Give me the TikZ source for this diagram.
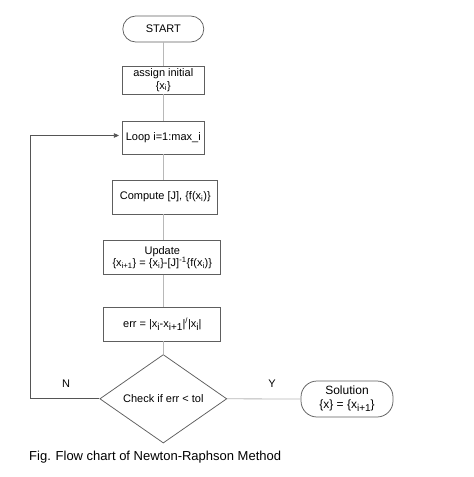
\documentclass[tikz,border=0pt]{standalone}
\usepackage{fontspec}
\setmainfont{Liberation Sans}
\usetikzlibrary{shapes.geometric,arrows.meta}
\definecolor{boxgray}{HTML}{5E5E5E}
\definecolor{linkgray}{HTML}{B8B8B8}
\definecolor{backgray}{HTML}{555555}
\newcommand{\bsub}[1]{\raisebox{-0.45ex}{\fontsize{10}{10}\selectfont #1}}
\begin{document}
\begin{tikzpicture}[x=1pt,y=-1pt,
  base/.style={draw=boxgray, line width=0.75pt, inner sep=0pt, align=center,
    font=\fontsize{11}{12.5}\selectfont, text=black},
  procbox/.style={base, rectangle},
  termbox/.style={base, rectangle, rounded corners=13pt},
  decbox/.style={base, diamond},
  link/.style={draw=linkgray, line width=0.8pt},
  backlink/.style={draw=backgray, line width=0.8pt, -{Triangle[length=5pt,width=4.5pt]}},
  lbl/.style={font=\fontsize{11}{12}\selectfont, inner sep=0pt}]
\useasboundingbox (0,0) rectangle (474,477);
\fill[white] (0,0) rectangle (474,477);

\node[termbox, minimum width=81pt, minimum height=26pt] (start) at (163.3,29) {START};
\node[procbox, minimum width=82pt, minimum height=28pt] (init) at (163.3,80) {assign initial\\\{x\textsubscript{i}\}};
\node[procbox, minimum width=82pt, minimum height=33pt] (loop) at (163.3,137.5) {Loop i=1:max\_i};
\node[procbox, minimum width=105pt, minimum height=34pt] (comp) at (165.3,197) {Compute [J], \{f(x\textsubscript{i})\}};
\node[procbox, minimum width=117pt, minimum height=33.5pt] (upd) at (162.3,257.5) {Update\\\{x\textsubscript{i+1}\} = \{x\textsubscript{i}\}-[J]\textsuperscript{-1}\{f(x\textsubscript{i})\}};
\node[procbox, minimum width=117pt, minimum height=34pt] (err) at (162.3,324) {err = |x\bsub{i}-x\bsub{i+1}|\textsuperscript{/}|x\bsub{i}|};
\node[decbox, minimum width=127pt, minimum height=68pt] (chk) at (163.3,398.8) {Check if err < tol};
\node[termbox, minimum width=92pt, minimum height=36pt, rounded corners=16pt, font=\fontsize{12}{14}\selectfont] (sol) at (347,399) {Solution\\\{x\} = \{x\bsub{i+1}\}};

\draw[link] (start.south) -- (init.north);
\draw[link] (init.south) -- (loop.north);
\draw[link] (loop.south) -- (loop.south |- comp.north);
\draw[link] (loop.south |- comp.south) -- (loop.south |- upd.north);
\draw[link] (loop.south |- upd.south) -- (loop.south |- err.north);
\draw[link] (loop.south |- err.south) -- (chk.north);
\draw[link] (chk.east) -- (sol.west);

\coordinate (bl) at (30,398.8);
\coordinate (tl) at (30,135.5);
\draw[backlink] (chk.west) -- (bl) -- (tl) -- ([xshift=-3pt]loop.west |- tl);

\node[lbl] (nlab) at (66,384) {N};
\node[lbl] (ylab) at (272,384) {Y};
\node[anchor=west, inner sep=0pt, font=\fontsize{13}{15}\selectfont] (cap) at (29,457) {Fig. Flow chart of Newton-Raphson Method};
\end{tikzpicture}
\end{document}
